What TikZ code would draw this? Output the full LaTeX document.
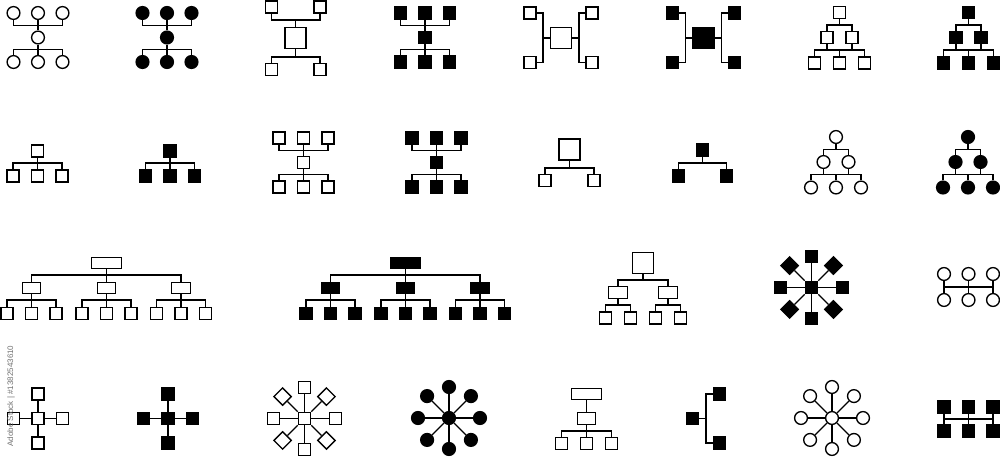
\documentclass[tikz,border=0pt]{standalone}
\usepackage{fontspec}
\newfontfamily\stampfont{Liberation Sans}
\tikzset{
  osq/.style={draw, fill=white, rectangle, inner sep=0pt, minimum size=12.3pt},
  fsq/.style={osq, fill=black},
  bigo/.style={osq, minimum size=21pt},
  bigf/.style={bigo, fill=black},
  ocir/.style={draw, fill=white, circle, inner sep=0pt, minimum size=12.8pt},
  fcir/.style={ocir, fill=black},
  odia/.style={osq, rotate=45},
  fdia/.style={fsq, rotate=45},
  orect/.style={osq, minimum height=11.5pt},
  frect/.style={orect, fill=black},
}
\begin{document}
\begin{tikzpicture}[x=1pt, y=-1pt, line width=1.35pt]
\useasboundingbox[fill=white] (0,0) rectangle (1000,457);
% 3-1-3 trees
\foreach \cx/\cy/\s in {38/37.5/ocir, 167/37.5/fcir, 425/37.5/fsq, 303.5/162.5/osq, 436.5/162.5/fsq} {
  \begin{scope}[shift={(\cx,\cy)}]
    \foreach \i/\x in {1/-24.5, 2/0, 3/24.5} {
      \node[\s] (t\i) at (\x,-24.5) {};
      \node[\s] (b\i) at (\x,24.5) {};
    }
    \node[\s] (m) at (0,0) {};
    \coordinate (tbus) at (0,-12);
    \coordinate (bbus) at (0,12);
    \draw (t1) |- (tbus) -| (t3);
    \draw (t2) -- (m) -- (b2);
    \draw (b1) |- (bbus) -| (b3);
  \end{scope}
}
% 2-1-2 with big box
\node[osq] (ct1) at (271.5,7) {};
\node[osq] (ct2) at (320,7) {};
\node[bigo] (cm) at (295.5,38) {};
\node[osq] (cb1) at (271.5,69.5) {};
\node[osq] (cb2) at (320,69.5) {};
\coordinate (ctbus) at (295.5,20);
\coordinate (cbbus) at (295.5,57);
\draw (ct1) |- (ctbus) -| (ct2);
\draw (ctbus) -- (cm) -- (cbbus);
\draw (cb1) |- (cbbus) -| (cb2);
% side brackets
\foreach \cx/\s/\b in {561/osq/bigo, 703.5/fsq/bigf} {
  \begin{scope}[shift={(\cx,38)}]
    \node[\b] (m) at (0,0) {};
    \node[\s] (lt) at (-31,-25) {};
    \node[\s] (lb) at (-31,24.5) {};
    \node[\s] (rt) at (31,-25) {};
    \node[\s] (rb) at (31,24.5) {};
    \coordinate (lbus) at (-18,0);
    \coordinate (rbus) at (18,0);
    \draw (lt) -| (lbus) |- (lb);
    \draw (rt) -| (rbus) |- (rb);
    \draw (lbus) -- (m) -- (rbus);
  \end{scope}
}
% 1-2-3 trees
\foreach \cx/\cy/\s in {839.5/12.5/osq, 968.5/12.5/fsq, 836/137/ocir, 968/137/fcir} {
  \begin{scope}[shift={(\cx,\cy)}]
    \node[\s] (t) at (0,0) {};
    \node[\s] (m1) at (-12.5,25) {};
    \node[\s] (m2) at (12.5,25) {};
    \foreach \i/\x in {1/-25, 2/0, 3/25}
      \node[\s] (b\i) at (\x,50.5) {};
    \coordinate (tbus) at (0,12.5);
    \coordinate (bbus) at (0,37.5);
    \draw (t) -- (tbus);
    \draw (m1) |- (tbus) -| (m2);
    \draw (m1) -- (m1 |- bbus);
    \draw (m2) -- (m2 |- bbus);
    \draw (b1) |- (bbus) -| (b3);
    \draw (b2) -- (bbus);
  \end{scope}
}
% 1-3 trees
\foreach \cx/\s in {37.5/osq, 170/fsq} {
  \begin{scope}[shift={(\cx,151)}]
    \node[\s] (t) at (0,0) {};
    \foreach \i/\x in {1/-24.5, 2/0, 3/24.5}
      \node[\s] (b\i) at (\x,25) {};
    \coordinate (bus) at (0,12);
    \draw (t) -- (b2);
    \draw (b1) |- (bus) -| (b3);
  \end{scope}
}
% 1-2 trees
\node[bigo] (mt) at (569.5,149.5) {};
\node[osq] (mb1) at (545,180.5) {};
\node[osq] (mb2) at (594,180.5) {};
\coordinate (mbus) at (569.5,168);
\draw (mt) -- (mbus);
\draw (mb1) |- (mbus) -| (mb2);
\node[fsq] (nt) at (702.5,150) {};
\node[fsq] (nb1) at (678.5,176) {};
\node[fsq] (nb2) at (726.5,176) {};
\coordinate (nbus) at (702.5,163);
\draw (nt) -- (nbus);
\draw (nb1) |- (nbus) -| (nb2);
% wide org charts
\foreach \dx/\s/\r in {0/osq/orect, 299/fsq/frect} {
  \begin{scope}[shift={(\dx,0)}]
    \node[\r, minimum width=29.5pt] (top) at (106.5,263) {};
    \coordinate (tbus) at (106.5,275);
    \foreach \j/\x in {1/31.5, 2/106.5, 3/181} {
      \node[\r, minimum width=18.5pt] (m\j) at (\x,288) {};
      \coordinate (bus\j) at (\x,300);
      \node[\s] (b\j1) at (\x-24.5,313.5) {};
      \node[\s] (b\j2) at (\x,313.5) {};
      \node[\s] (b\j3) at (\x+24.5,313.5) {};
      \draw (m\j) -- (b\j2);
      \draw (b\j1) |- (bus\j) -| (b\j3);
    }
    \draw (top) -- (m2);
    \draw (m1) |- (tbus) -| (m3);
  \end{scope}
}
% 1-2-4 tree
\node[bigo] (st) at (643,263) {};
\coordinate (stbus) at (643,280);
\foreach \j/\x in {1/618, 2/668} {
  \node[orect, minimum width=18.5pt] (sm\j) at (\x,292.5) {};
  \coordinate (sbus\j) at (\x,305);
  \node[osq] (sb\j1) at (\x-12.5,318) {};
  \node[osq] (sb\j2) at (\x+12.5,318) {};
  \draw (sm\j) -- (sbus\j);
  \draw (sb\j1) |- (sbus\j) -| (sb\j2);
}
\draw (st) -- (stbus);
\draw (sm1) |- (stbus) -| (sm2);
% stars
\foreach \cx/\cy/\s/\d in {811.5/287.5/fsq/fdia, 304.5/418.5/osq/odia, 449/418/fcir/fcir, 832/418/ocir/ocir} {
  \begin{scope}[shift={(\cx,\cy)}]
    \node[\s] (c) at (0,0) {};
    \foreach \a in {0,90,180,270}
      \node[\s] (s\a) at (\a:31) {};
    \foreach \a in {45,135,225,315}
      \node[\d] (s\a) at (\a:31) {};
    \foreach \a in {0,45,...,315}
      \draw (c) -- (s\a);
  \end{scope}
}
% crosses
\foreach \cx/\s in {38/osq, 168/fsq} {
  \begin{scope}[shift={(\cx,418.5)}]
    \node[\s] (c) at (0,0) {};
    \foreach \a in {0,90,180,270} {
      \node[\s] (s\a) at (\a:24.5) {};
      \draw (c) -- (s\a);
    }
  \end{scope}
}
% ladders
\foreach \cy/\s/\h in {287/ocir/13, 419/fsq/12} {
  \foreach \i/\x in {1/944, 2/968.5, 3/993} {
    \node[\s] (u\i) at (\x,\cy-\h) {};
    \node[\s] (l\i) at (\x,\cy+\h) {};
    \draw (u\i) -- (l\i);
  }
  \coordinate (barl) at (944,\cy);
  \coordinate (barr) at (993,\cy);
  \draw (barl) -- (barr);
}
% 1-1-3 tree
\node[orect, minimum width=29.5pt] (zt) at (586.5,394) {};
\node[orect, minimum width=18pt] (zm) at (586.5,418.5) {};
\foreach \i/\x in {1/561.5, 2/586.5, 3/611.5}
  \node[osq] (zb\i) at (\x,443.5) {};
\coordinate (zbus) at (586.5,431);
\draw (zt) -- (zm) -- (zb2);
\draw (zb1) |- (zbus) -| (zb3);
% bracket
\node[fsq] (aal) at (692.5,418.5) {};
\node[fsq] (aat) at (719.5,394) {};
\node[fsq] (aab) at (719.5,443) {};
\coordinate (aabus) at (706,418.5);
\draw (aal) -- (aabus);
\draw (aat) -| (aabus) |- (aab);
% stamp
\node[rotate=90, text=black!55, inner sep=0pt, font=\stampfont\fontsize{8}{9}\selectfont] (stamp) at (11,396) {Adobe Stock | \#1382543610};
\end{tikzpicture}
\end{document}
